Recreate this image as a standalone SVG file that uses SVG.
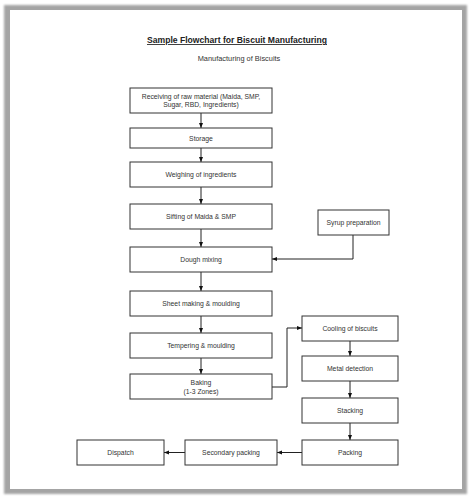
<svg xmlns="http://www.w3.org/2000/svg" width="474" height="499" viewBox="0 0 474 499">
<defs>
<filter id="sh" x="-5%" y="-5%" width="110%" height="110%"><feGaussianBlur stdDeviation="1"/></filter>
<marker id="ah" viewBox="0 0 10 10" refX="10" refY="5" markerWidth="5" markerHeight="5" orient="auto" markerUnits="userSpaceOnUse"><path d="M0,1 L10,5 L0,9 Z" fill="#111"/></marker>
</defs>
<style>
.box{fill:#fff;stroke:#333;stroke-width:1}
.t{font-family:"Liberation Sans",Arial,sans-serif;font-size:6.8px;fill:#333;text-anchor:middle}
.c{fill:none;stroke:#222;stroke-width:1;marker-end:url(#ah)}
</style>
<rect width="474" height="499" fill="#fff"/>
<rect x="4" y="5" width="463" height="489" fill="#a4a4a4" filter="url(#sh)"/>
<rect x="10" y="10" width="452" height="479" fill="#fff"/>
<text x="237" y="43" font-family="Liberation Sans,Arial,sans-serif" font-size="8.6" font-weight="bold" fill="#222" text-anchor="middle" text-decoration="underline">Sample Flowchart for Biscuit Manufacturing</text>
<text x="239" y="61" font-family="Liberation Sans,Arial,sans-serif" font-size="7.4" fill="#333" text-anchor="middle">Manufacturing of Biscuits</text>
<g id="connectors">
<path class="c" d="M201,113 V128"/>
<path class="c" d="M201,148 V162"/>
<path class="c" d="M201,187 V204"/>
<path class="c" d="M201,229 V247"/>
<path class="c" d="M353,235 V259 H272"/>
<path class="c" d="M201,272 V291"/>
<path class="c" d="M201,316 V333"/>
<path class="c" d="M201,358 V374"/>
<path class="c" d="M272,387 H287 V328 H302"/>
<path class="c" d="M350,341 V356"/>
<path class="c" d="M350,381 V398"/>
<path class="c" d="M350,423 V440"/>
<path class="c" d="M302,452.5 H277"/>
<path class="c" d="M185,452.5 H164"/>
</g>
<g id="n1"><rect class="box" x="130" y="88" width="142" height="25"/><text class="t" x="201" y="98.5">Receiving of raw material (Maida, SMP,</text><text class="t" x="201" y="107">Sugar, RBD, Ingredients)</text></g>
<g id="n2"><rect class="box" x="130" y="128" width="142" height="20"/><text class="t" x="201" y="140.5">Storage</text></g>
<g id="n3"><rect class="box" x="130" y="162" width="142" height="25"/><text class="t" x="201" y="177">Weighing of ingredients</text></g>
<g id="n4"><rect class="box" x="130" y="204" width="142" height="25"/><text class="t" x="201" y="219">Sifting of Maida &amp; SMP</text></g>
<g id="n5"><rect class="box" x="130" y="247" width="142" height="25"/><text class="t" x="201" y="262">Dough mixing</text></g>
<g id="n6"><rect class="box" x="130" y="291" width="142" height="25"/><text class="t" x="201" y="306">Sheet making &amp; moulding</text></g>
<g id="n7"><rect class="box" x="130" y="333" width="142" height="25"/><text class="t" x="201" y="348">Tempering &amp; moulding</text></g>
<g id="n8"><rect class="box" x="130" y="374" width="142" height="25"/><text class="t" x="201" y="384.5">Baking</text><text class="t" x="201" y="393.5">(1-3 Zones)</text></g>
<g id="n9"><rect class="box" x="318" y="210" width="71" height="25"/><text class="t" x="353.5" y="225">Syrup preparation</text></g>
<g id="n10"><rect class="box" x="302" y="316" width="96" height="25"/><text class="t" x="350" y="331">Cooling of biscuits</text></g>
<g id="n11"><rect class="box" x="302" y="356" width="96" height="25"/><text class="t" x="350" y="371">Metal detection</text></g>
<g id="n12"><rect class="box" x="302" y="398" width="96" height="25"/><text class="t" x="350" y="413">Stacking</text></g>
<g id="n13"><rect class="box" x="302" y="440" width="96" height="25"/><text class="t" x="350" y="455">Packing</text></g>
<g id="n14"><rect class="box" x="185" y="440" width="92" height="25"/><text class="t" x="231" y="455">Secondary packing</text></g>
<g id="n15"><rect class="box" x="77" y="440" width="87" height="25"/><text class="t" x="120.5" y="455">Dispatch</text></g>
</svg>
